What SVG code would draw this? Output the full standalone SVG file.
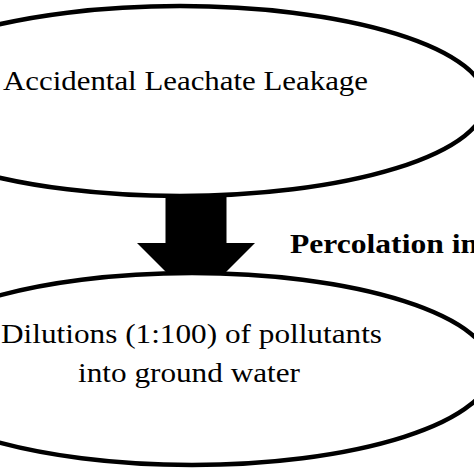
<svg xmlns="http://www.w3.org/2000/svg" width="474" height="474" viewBox="0 0 474 474">
<style>
.node ellipse{fill:#fff;stroke:#000;stroke-width:4.5}
.t{font-family:"Liberation Serif","Times New Roman",serif;fill:#000}
.b{font-weight:bold}
</style>
<rect width="474" height="474" fill="#fff"/>
<g id="connectors">
<polygon points="165.5,180 226.5,180 226.5,243 255,243 196,302 137,243 165.5,243" fill="#000"/>
</g>
<g id="node-leakage" class="node">
<ellipse cx="180" cy="101" rx="306" ry="95"/>
<text class="t" x="3" y="90" font-size="28" textLength="365" lengthAdjust="spacingAndGlyphs">Accidental Leachate Leakage</text>
</g>
<g id="node-dilution" class="node">
<ellipse cx="192" cy="369" rx="300" ry="96"/>
<text class="t" x="1" y="343" font-size="27" textLength="381" lengthAdjust="spacingAndGlyphs">Dilutions (1:100) of pollutants</text>
<text class="t" x="78" y="382" font-size="27" textLength="222" lengthAdjust="spacingAndGlyphs">into ground water</text>
</g>
<g id="label-percolation">
<text class="t b" x="290" y="253" font-size="28" textLength="188" lengthAdjust="spacingAndGlyphs">Percolation in</text>
</g>
</svg>
